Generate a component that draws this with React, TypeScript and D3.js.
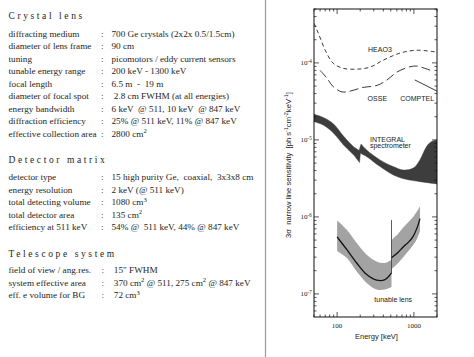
import React from "react";
import * as d3 from "d3";

// ---------- text panel data ----------
const crystalRows: [string, string][] = [
  ["diffracting medium", "700 Ge crystals (2x2x 0.5/1.5cm)"],
  ["diameter of lens frame", "90 cm"],
  ["tuning", "picomotors / eddy current sensors"],
  ["tunable energy range", "200 keV - 1300 keV"],
  ["focal length", "6.5 m  -  19 m"],
  ["diameter of focal spot", " 2.8 cm FWHM (at all energies)"],
  ["energy bandwidth", "6 keV  @ 511, 10 keV  @ 847 keV"],
  ["diffraction efficiency", "25% @ 511 keV, 11% @ 847 keV"],
  ["effective collection area", "2800 cm^{2}"],
];
const detectorRows: [string, string][] = [
  ["detector type", "15 high purity Ge,  coaxial,  3x3x8 cm"],
  ["energy resolution", "2 keV (@ 511 keV)"],
  ["total detecting volume", "1080 cm^{3}"],
  ["total detector area", "135 cm^{2}"],
  ["efficiency at 511 keV", "54% @  511 keV, 44% @ 847 keV"],
];
const telescopeRows: [string, string][] = [
  ["field of view / ang.res.", " 15\" FWHM"],
  ["system effective area", " 370 cm^{2} @ 511, 275 cm^{2} @ 847 keV"],
  ["eff. e volume for BG", " 72 cm^{3}"],
];
const sectionTitles = ["Crystal lens", "Detector matrix", "Telescope system"];

// ---------- chart data ----------
const xDomain = [50, 2000];
const yDomain = [Math.pow(10, -7.3), Math.pow(10, -3.3)];
const xTickLabels = [100, 1000];
const yTickLabels = [1e-4, 1e-5, 1e-6, 1e-7];

const heaoE = [50, 57, 70, 89, 120, 182, 268, 396, 658, 1094, 2000];
const heaoS = [3.27e-4, 2.43e-4, 1.46e-4, 9.9e-5, 8.5e-5, 8.3e-5, 8.8e-5, 1.08e-4, 1.34e-4, 1.46e-4, 1.38e-4];

const osseE = [60, 74, 89, 116, 147, 218, 331, 446, 601, 887, 1094, 1390, 1713];
const osseS = [8.0e-5, 6.3e-5, 4.9e-5, 4.2e-5, 4.3e-5, 4.8e-5, 5.1e-5, 6.0e-5, 7.6e-5, 8.9e-5, 9.1e-5, 8.5e-5, 7.9e-5];

const comptelE = [1030, 2000];
const comptelS = [6.0e-5, 4.3e-5];

const integralUpperLeftE = [50, 66, 90, 121, 163, 193];
const integralUpperLeftS = [2.16e-5, 1.96e-5, 1.61e-5, 1.12e-5, 8.2e-6, 7.3e-6];
const integralUpperRightE = [205, 243, 362, 539, 726, 979, 1196, 1462, 1698, 2000];
const integralUpperRightS = [8.85e-6, 7.4e-6, 5.5e-6, 4.5e-6, 4.07e-6, 4.3e-6, 5.5e-6, 8.2e-6, 9.5e-6, 1.0e-5];
const integralLowerLeftE = [50, 66, 90, 121, 163, 196];
const integralLowerLeftS = [1.72e-5, 1.56e-5, 1.22e-5, 8.6e-6, 6.4e-6, 5.07e-6];
const integralLowerRightE = [201, 243, 362, 539, 784, 1196, 2000];
const integralLowerRightS = [6.7e-6, 6.05e-6, 4.5e-6, 3.5e-6, 3.08e-6, 2.87e-6, 2.68e-6];

const lensLeftE = [100, 134, 180, 243, 327, 420, 511];
const lensLeftS = [5.5e-7, 3.75e-7, 2.52e-7, 1.78e-7, 1.51e-7, 1.53e-7, 1.87e-7];
const lensLeftHi = [9.0e-7, 6.8e-7, 4.57e-7, 3.23e-7, 2.64e-7, 2.52e-7, 2.78e-7];
const lensLeftLo = [3.6e-7, 2.92e-7, 1.96e-7, 1.39e-7, 1.14e-7, 1.14e-7, 1.23e-7];

const lensRightE = [511, 620, 726, 850, 979, 1100, 1200];
const lensRightS = [2.95e-7, 3.45e-7, 4.07e-7, 4.7e-7, 5.6e-7, 7.2e-7, 9.5e-7];
const lensRightHi = [5.0e-7, 6.0e-7, 7.3e-7, 8.6e-7, 1.0e-6, 1.18e-6, 1.38e-6];
const lensRightLo = [2.1e-7, 2.5e-7, 3.0e-7, 3.6e-7, 4.3e-7, 5.2e-7, 6.5e-7];

const line511E = [511, 511];
const line511S = [9.1e-7, 1.87e-7];

const curveLabels = [
  { text: "HEAO3", e: 361, s: 1.38e-4, anchor: "middle" },
  { text: "OSSE", e: 334, s: 3.16e-5, anchor: "middle" },
  { text: "COMPTEL", e: 1104, s: 3.16e-5, anchor: "middle" },
  { text: "INTEGRAL", e: 268, s: 9.5e-6, anchor: "start" },
  { text: "spectrometer", e: 268, s: 7.95e-6, anchor: "start" },
  { text: "tunable lens", e: 538, s: 7.9e-8, anchor: "middle" },
];

// ---------- helpers ----------
function rich(s: string, fs: number) {
  const parts = s.split(/\^\{([^}]*)\}/);
  const out: any[] = [];
  let raised = false;
  const shift = fs * 0.38;
  parts.forEach((p, i) => {
    if (i % 2 === 1) {
      out.push(
        <tspan key={i} dy={-shift} fontSize={fs * 0.72}>
          {p}
        </tspan>
      );
      raised = true;
    } else {
      if (p === "") return;
      out.push(
        <tspan key={i} dy={raised ? shift : 0} fontSize={fs}>
          {p}
        </tspan>
      );
      raised = false;
    }
  });
  return out;
}

function logTicks(domain: number[]) {
  const res: { v: number; major: boolean }[] = [];
  const d0 = Math.floor(Math.log10(domain[0]));
  const d1 = Math.ceil(Math.log10(domain[1]));
  for (let d = d0; d <= d1; d++) {
    for (let k = 1; k <= 9; k++) {
      const v = k * Math.pow(10, d);
      if (v >= domain[0] * 0.999 && v <= domain[1] * 1.001) res.push({ v, major: k === 1 });
    }
  }
  return res;
}

export default function App() {
  const L = 314, T = 9, R = 437, B = 317;
  const x = d3.scaleLog().domain(xDomain).range([L, R]);
  const y = d3.scaleLog().domain(yDomain).range([B, T]);

  const zip = (e: number[], s: number[]) => e.map((v, i) => [v, s[i]] as [number, number]);
  const lineGen = d3
    .line<[number, number]>()
    .x((d) => x(d[0]))
    .y((d) => y(d[1]))
    .curve(d3.curveCatmullRom.alpha(0.5));
  const linearGen = d3
    .line<[number, number]>()
    .x((d) => x(d[0]))
    .y((d) => y(d[1]));

  const join = (paths: string[]) =>
    paths.map((p, i) => (i === 0 ? p : p.replace(/^M/, "L"))).join("") + "Z";

  const integralPath = join([
    lineGen(zip(integralUpperLeftE, integralUpperLeftS))!,
    lineGen(zip(integralUpperRightE, integralUpperRightS))!,
    lineGen(zip(integralLowerRightE, integralLowerRightS).reverse())!,
    lineGen(zip(integralLowerLeftE, integralLowerLeftS).reverse())!,
  ]);

  const bandPath = (e: number[], hi: number[], lo: number[]) =>
    join([lineGen(zip(e, hi))!, lineGen(zip(e, lo).reverse())!]);

  const xt = logTicks(xDomain);
  const yt = logTicks(yDomain);

  const fsText = 9.2;
  const serif = "'Liberation Serif', 'Times New Roman', serif";
  const sans = "'Liberation Sans', Arial, Helvetica, sans-serif";

  const sections = [
    { title: sectionTitles[0], titleY: 19, rowY: 36.5, rows: crystalRows, colon: 101, val: 111.5 },
    { title: sectionTitles[1], titleY: 163, rowY: 180, rows: detectorRows, colon: 101, val: 111.5 },
    { title: sectionTitles[2], titleY: 256.5, rowY: 273, rows: telescopeRows, colon: 101.5, val: 111.5 },
  ];

  return (
    <svg
      width={474}
      height={357}
      viewBox="0 0 474 357"
      style={{ position: "absolute", left: 0, top: 0, background: "#fff" }}
    >
      <rect x={0} y={0} width={474} height={357} fill="#fff" />
      {/* text panel */}
      <g fontFamily={serif} fill="#1e1e1e">
        {sections.map((sec, si) => (
          <g key={si}>
            <text x={8.5} y={sec.titleY} fontSize={9.5} letterSpacing={2.6}>
              {sec.title}
            </text>
            {sec.rows.map((r, ri) => {
              const yy = sec.rowY + ri * 12.5;
              return (
                <g key={ri}>
                  <text x={8.5} y={yy} fontSize={fsText}>
                    {r[0]}
                  </text>
                  <text x={sec.colon} y={yy} fontSize={fsText}>
                    :
                  </text>
                  <text x={sec.val} y={yy} fontSize={fsText} xmlSpace="preserve" style={{ whiteSpace: "pre" }}>
                    {rich(r[1], fsText)}
                  </text>
                </g>
              );
            })}
          </g>
        ))}
      </g>

      {/* divider */}
      <line x1={265.5} x2={265.5} y1={0} y2={357} stroke="#9a9a9a" strokeWidth={1.2} />

      {/* chart */}
      <defs>
        <clipPath id="plotclip">
          <rect x={L} y={T} width={R - L} height={B - T} />
        </clipPath>
      </defs>
      <g clipPath="url(#plotclip)">
        <path d={integralPath} fill="#3d3d3d" stroke="#3d3d3d" strokeWidth={0.4} />
        <path d={bandPath(lensLeftE, lensLeftHi, lensLeftLo)} fill="#a3a3a3" />
        <path d={bandPath(lensRightE, lensRightHi, lensRightLo)} fill="#a3a3a3" />
        <path d={lineGen(zip(lensLeftE, lensLeftS))!} fill="none" stroke="#111" strokeWidth={1.3} />
        <path d={lineGen(zip(lensRightE, lensRightS))!} fill="none" stroke="#111" strokeWidth={1.3} />
        <path d={linearGen(zip(line511E, line511S))!} fill="none" stroke="#333" strokeWidth={0.8} />
        <path
          d={lineGen(zip(heaoE, heaoS))!}
          fill="none"
          stroke="#222"
          strokeWidth={0.9}
          strokeDasharray="4,3"
        />
        <path
          d={lineGen(zip(osseE, osseS))!}
          fill="none"
          stroke="#222"
          strokeWidth={0.9}
          strokeDasharray="9,4"
        />
        <path d={linearGen(zip(comptelE, comptelS))!} fill="none" stroke="#222" strokeWidth={0.9} />
      </g>

      {/* frame */}
      <rect x={L} y={T} width={R - L} height={B - T} fill="none" stroke="#111" strokeWidth={1} />

      {/* ticks */}
      <g stroke="#111" strokeWidth={0.7}>
        {xt.map((t, i) => {
          const px = x(t.v);
          const len = t.major ? 5 : 2.5;
          return (
            <g key={"x" + i}>
              <line x1={px} x2={px} y1={B} y2={B - len} />
              <line x1={px} x2={px} y1={T} y2={T + len} />
            </g>
          );
        })}
        {yt.map((t, i) => {
          const py = y(t.v);
          const len = t.major ? 5 : 2.5;
          return (
            <g key={"y" + i}>
              <line x1={L} x2={L + len} y1={py} y2={py} />
              <line x1={R} x2={R - len} y1={py} y2={py} />
            </g>
          );
        })}
      </g>

      {/* tick labels */}
      <g fontFamily={serif} fill="#222" fontSize={7}>
        {xTickLabels.map((v) => (
          <text key={v} x={x(v)} y={328} textAnchor="middle">
            {v}
          </text>
        ))}
        {yTickLabels.map((v) => (
          <text key={v} x={L - 13.5} y={y(v) + 2.5} textAnchor="start">
            {rich("10^{" + Math.round(Math.log10(v)) + "}", 7)}
          </text>
        ))}
      </g>

      {/* axis titles */}
      <text x={(L + R) / 2 + 1} y={339} textAnchor="middle" fontFamily={sans} fontSize={7.5} fill="#222">
        Energy [keV]
      </text>
      <text
        transform={`translate(291,${(T + B) / 2 + 2}) rotate(-90)`}
        textAnchor="middle"
        fontFamily={sans}
        fontSize={7.6}
        fill="#222"
        xmlSpace="preserve"
        style={{ whiteSpace: "pre" }}
      >
        {rich("3σ  narrow line sensitivity  [ph s^{-1}cm^{-2}keV^{-1}]", 7.6)}
      </text>

      {/* curve labels */}
      <g fontFamily={sans} fontSize={7} fill="#222">
        {curveLabels.map((c, i) => (
          <text key={i} x={x(c.e)} y={y(c.s)} textAnchor={c.anchor as any}>
            {c.text}
          </text>
        ))}
      </g>
    </svg>
  );
}
